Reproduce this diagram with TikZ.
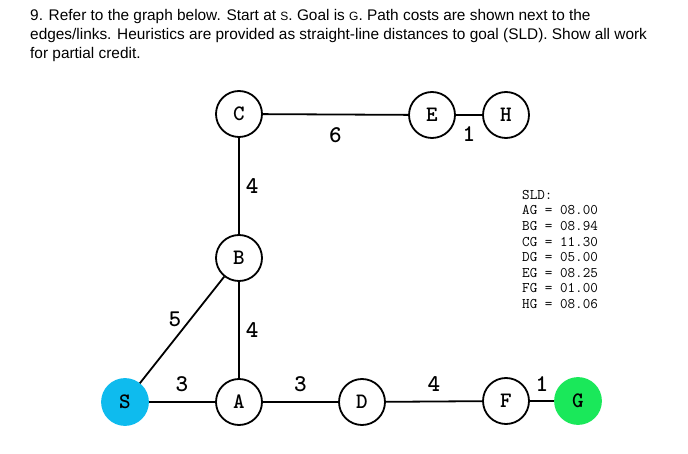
\documentclass[tikz,border=0pt]{standalone}
\usepackage{fontspec}
\setmainfont{Liberation Sans}
\usetikzlibrary{positioning}

\definecolor{startblue}{RGB}{14,187,238}
\definecolor{goalgreen}{RGB}{26,232,90}

\begin{document}
\begin{tikzpicture}[x=1pt,y=-1pt,
	state/.style={circle,draw=black,line width=1.8pt,minimum size=46pt,inner sep=0pt,font=\ttfamily\bfseries\fontsize{22}{22}\selectfont},
	edge/.style={line width=1.8pt},
	cost/.style={inner sep=0pt,font=\ttfamily\bfseries\fontsize{24}{24}\selectfont}]
\useasboundingbox (0,0) rectangle (688,454);
% question
\node[anchor=north west,align=left,inner sep=0pt,font=\fontsize{15.4}{19}\selectfont] (question) at (30,9)
	{9. Refer to the graph below. Start at {\fontsize{12}{12}\selectfont S}. Goal is {\fontsize{12}{12}\selectfont G}. Path costs are shown next to the\\
	edges/links. Heuristics are provided as straight-line distances to goal (SLD). Show all work\\
	for partial credit.};
% graph
\node[state,fill=startblue,draw=startblue] (S) at (125,402) {S};
\node[state] (A) at (239,402) {A};
\node[state] (B) at (239,258) {B};
\node[state] (C) at (239,114) {C};
\node[state] (D) at (362,402) {D};
\node[state] (E) at (432,115) {E};
\node[state] (H) at (506,115) {H};
\node[state] (F) at (506,401) {F};
\node[state,fill=goalgreen,draw=goalgreen] (G) at (578,401) {G};

\draw[edge] (C) -- node[cost,below=12pt] {6} (E);
\draw[edge] (E) -- node[cost,below=11pt] {1} (H);
\draw[edge] (C) -- node[cost,right=6pt] {4} (B);
\draw[edge] (B) -- node[cost,right=6pt] {4} (A);
\draw[edge] (S) -- node[cost,above left=2pt and 0pt] {5} (B);
\draw[edge] (S) -- node[cost,above=9pt] {3} (A);
\draw[edge] (A) -- node[cost,above=9pt] {3} (D);
\draw[edge] (D) -- node[cost,above=9pt] {4} (F);
\draw[edge] (F) -- node[cost,above=9pt] {1} (G);

% heuristics
\node[anchor=north west,align=left,inner sep=0pt,font=\ttfamily\fontsize{14.7}{15.6}\selectfont] (sld) at (522,190)
	{SLD:\\
	AG = 08.00\\
	BG = 08.94\\
	CG = 11.30\\
	DG = 05.00\\
	EG = 08.25\\
	FG = 01.00\\
	HG = 08.06};
\end{tikzpicture}
\end{document}
